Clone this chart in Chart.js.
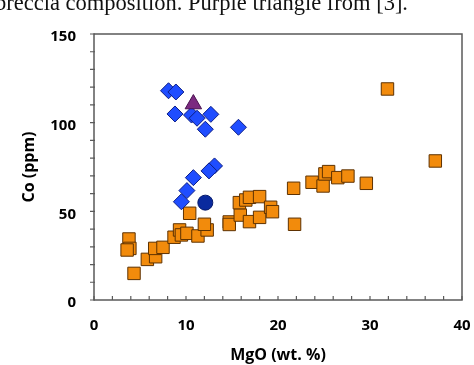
<!DOCTYPE html>
<html>
<head>
<meta charset="utf-8">
<script src="https://cdn.jsdelivr.net/npm/chart.js@4/dist/chart.umd.min.js"></script>
<style>
  html, body { margin: 0; padding: 0; background: #fff; overflow: hidden; }
  #wrap { position: relative; width: 474px; height: 365px; }
  #caption {
    position: absolute; left: -5px; top: -8px; white-space: nowrap;
    font-family: "Liberation Serif", "DejaVu Serif", serif; font-size: 22.5px; line-height: 22px; color: #111;
  }
  canvas { position: absolute; left: 0; top: 0; }
</style>
</head>
<body>
<div id="wrap">
  <canvas id="c" width="474" height="365"></canvas>
  <div id="caption">breccia composition. Purple triangle from [3].</div>
</div>
<script>
// orange squares (breccia samples)
let orangeX = [3.8, 3.9, 3.6, 4.35, 5.8, 6.7, 6.6, 7.5, 8.7, 9.3, 9.5, 10.1, 11.3, 12.3, 12.0, 10.4,
  14.7, 14.7, 15.9, 16.9, 18.0, 15.8, 16.5, 16.9, 18.0, 19.2, 19.4, 21.7, 21.8, 23.7, 24.9, 25.1,
  25.5, 26.5, 27.6, 29.6, 31.9, 37.1];
let orangeY = [34.4, 29.1, 28.2, 15.0, 22.9, 24.4, 29.1, 29.7, 35.4, 39.5, 36.7, 37.6, 36.1, 39.5, 42.7, 48.9,
  44.0, 42.6, 47.9, 44.2, 46.6, 54.9, 56.4, 57.9, 58.3, 52.3, 49.8, 63.0, 42.7, 66.4, 64.3, 71.1,
  72.4, 69.0, 69.9, 65.8, 119.0, 78.4];
// blue diamonds
let blueX = [8.1, 8.9, 8.8, 10.6, 11.2, 12.7, 12.1, 15.7, 13.1, 12.5, 10.8, 10.1, 9.5];
let blueY = [118.0, 117.3, 104.9, 104.3, 102.5, 104.7, 96.3, 97.4, 75.6, 72.8, 69.0, 61.7, 55.4];
// purple triangle [3] and dark blue circle
let triX = [10.8], triY = [110.5];
let circX = [12.1], circY = [54.9];

let xTicks = [0, 10, 20, 30, 40];
let yTicks = [0, 50, 100, 150];

function pts(xs, ys) { return xs.map((x, i) => ({x: x, y: ys[i]})); }

// frame + small tick marks
const framePlugin = {
  id: 'frame',
  beforeDatasetsDraw(chart) {
    const a = chart.chartArea, ctx = chart.ctx;
    const xs = chart.scales.x, ys = chart.scales.y;
    ctx.save();
    ctx.strokeStyle = '#5a5a5a';
    ctx.lineWidth = 1.5;
    ctx.strokeRect(a.left, a.top, a.right - a.left, a.bottom - a.top);
    ctx.lineWidth = 1.2;
    ctx.beginPath();
    for (let v = 0; v <= 40; v += 2) {
      const p = xs.getPixelForValue(v);
      ctx.moveTo(p, a.bottom);
      ctx.lineTo(p, a.bottom - 4);
    }
    for (let v = 0; v <= 150; v += 10) {
      const p = ys.getPixelForValue(v);
      ctx.moveTo(a.left - 4, p);
      ctx.lineTo(a.left + 1, p);
    }
    ctx.stroke();
    ctx.restore();
  }
};

const ctx = document.getElementById('c').getContext('2d');
const chart = new Chart(ctx, {
  type: 'scatter',
  data: {
    datasets: [
      {
        label: 'triangle',
        data: pts(triX, triY),
        pointStyle: 'triangle',
        pointRadius: 9.5,
        backgroundColor: '#7b2a80',
        borderColor: '#4a1250',
        borderWidth: 1
      },
      {
        label: 'circle',
        data: pts(circX, circY),
        pointStyle: 'circle',
        pointRadius: 7.5,
        backgroundColor: '#0a2a9e',
        borderColor: '#061a6a',
        borderWidth: 1
      },
      {
        label: 'diamonds',
        data: pts(blueX, blueY),
        pointStyle: 'rectRot',
        pointRadius: 8,
        backgroundColor: '#1f4dff',
        borderColor: '#0c1e86',
        borderWidth: 1
      },
      {
        label: 'squares',
        data: pts(orangeX, orangeY),
        pointStyle: 'rect',
        pointRadius: 8.8,
        backgroundColor: '#f28b0c',
        borderColor: '#5e3202',
        borderWidth: 1
      }
    ]
  },
  options: {
    responsive: false,
    animation: false,
    events: [],
    layout: { padding: { top: 34, right: 12, left: 0, bottom: 0 } },
    plugins: {
      legend: { display: false },
      tooltip: { enabled: false }
    },
    scales: {
      x: {
        type: 'linear',
        min: 0, max: 40,
        afterFit(s) { s.height = 65; s.paddingLeft = 0; s.paddingRight = 0; },
        afterBuildTicks(s) { s.ticks = xTicks.map(v => ({value: v})); },
        grid: { display: false, drawTicks: false },
        border: { display: false },
        ticks: {
          padding: 17,
          color: '#000',
          font: { family: 'Open Sans', weight: 'bold', size: 15 }
        },
        title: {
          display: true,
          text: 'MgO (wt. %)',
          color: '#000',
          padding: { top: 0, bottom: 0 },
          font: { family: 'Open Sans', weight: 'bold', size: 16 }
        }
      },
      y: {
        type: 'linear',
        min: 0, max: 150,
        afterFit(s) { s.width = 94; s.paddingTop = 0; s.paddingBottom = 0; },
        afterBuildTicks(s) { s.ticks = yTicks.map(v => ({value: v})); },
        grid: { display: false, drawTicks: false },
        border: { display: false },
        ticks: {
          padding: 18,
          labelOffset: 3,
          color: '#000',
          font: { family: 'Open Sans', weight: 'bold', size: 15 }
        },
        title: {
          display: true,
          text: 'Co (ppm)',
          color: '#000',
          padding: { top: 20, bottom: 0 },
          font: { family: 'Open Sans', weight: 'bold', size: 16 }
        }
      }
    }
  },
  plugins: [framePlugin]
});
</script>
</body>
</html>
